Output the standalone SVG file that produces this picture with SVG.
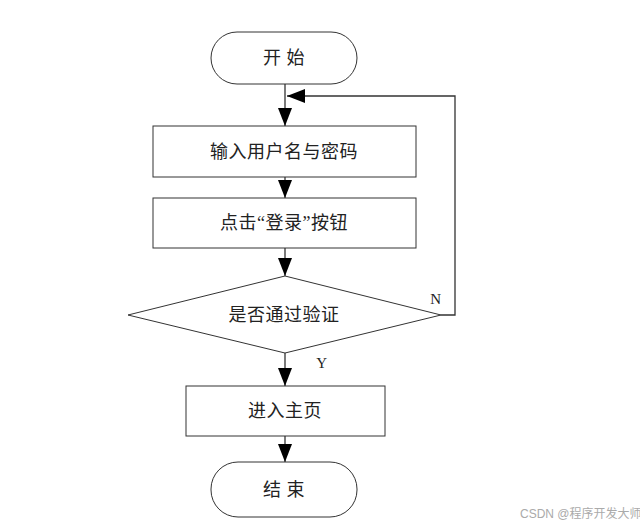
<svg xmlns="http://www.w3.org/2000/svg" width="640" height="526" viewBox="0 0 640 526">
<style>
.s{fill:#fff;stroke:#333;stroke-width:1}
.t{font-family:"Liberation Serif","Noto Sans CJK SC",serif;font-size:18px;fill:#222;text-anchor:middle;letter-spacing:0.5px}
.c{fill:none;stroke:#333;stroke-width:1.3}
</style>
<defs>
<marker id="a" viewBox="0 0 18 14" refX="18" refY="7" markerWidth="18" markerHeight="14" markerUnits="userSpaceOnUse" orient="auto"><path d="M0,0L18,7L0,14z" fill="#000"/></marker>
</defs>
<rect width="640" height="526" fill="#fff"/>
<g id="connectors">
<path class="c" d="M285,84V126" marker-end="url(#a)"/>
<path class="c" d="M285,177V198" marker-end="url(#a)"/>
<path class="c" d="M285,248V276" marker-end="url(#a)"/>
<path class="c" d="M285,353V386" marker-end="url(#a)"/>
<path class="c" d="M285,436V462" marker-end="url(#a)"/>
<path class="c" d="M441,315H455V96H287" marker-end="url(#a)"/>
<text x="436" y="304" class="t" style="font-size:15px">N</text>
<text x="322" y="368" class="t" style="font-size:15px">Y</text>
</g>
<g id="start"><rect class="s" x="211" y="32" width="146" height="52" rx="26"/><text class="t" x="284" y="64">开 始</text></g>
<g id="input"><rect class="s" x="153" y="126" width="263" height="51"/><text class="t" x="284" y="158">输入用户名与密码</text></g>
<g id="login"><rect class="s" x="153" y="198" width="263" height="50"/><text class="t" x="284" y="229">点击“登录”按钮</text></g>
<g id="check"><path class="s" d="M285,276L441,315L285,353L128,315z"/><text class="t" x="284" y="321">是否通过验证</text></g>
<g id="home"><rect class="s" x="186" y="386" width="199" height="50"/><text class="t" x="285" y="417">进入主页</text></g>
<g id="end"><rect class="s" x="211" y="462" width="146" height="55" rx="27"/><text class="t" x="284" y="496">结 束</text></g>
<text x="520" y="518" style="font-family:'Liberation Sans','Noto Sans CJK SC',sans-serif;font-size:12px;fill:#aaa">CSDN @程序开发大师</text>
</svg>
